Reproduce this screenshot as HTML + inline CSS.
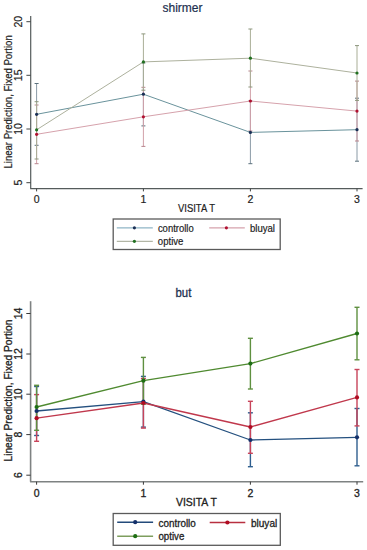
<!DOCTYPE html>
<html><head><meta charset="utf-8"><style>
html,body{margin:0;padding:0;background:#fff;}
svg{display:block;}
text{font-family:"Liberation Sans", sans-serif;stroke-linejoin:round;}
.b1 text{stroke-width:0.2px;}
.b2 text{stroke-width:0.3px;}
</style></head><body>
<svg width="367" height="550" viewBox="0 0 367 550">
<rect width="367" height="550" fill="#fff"/>
<g class="b1"><line x1="36.6" y1="145.3" x2="36.6" y2="83.5" stroke="#8a9aa6" stroke-width="1"/>
<line x1="34.6" y1="145.3" x2="38.6" y2="145.3" stroke="#5a707c" stroke-width="1"/>
<line x1="34.6" y1="83.5" x2="38.6" y2="83.5" stroke="#5a707c" stroke-width="1"/>
<line x1="143.4" y1="125.9" x2="143.4" y2="62.9" stroke="#8a9aa6" stroke-width="1"/>
<line x1="141.4" y1="125.9" x2="145.4" y2="125.9" stroke="#5a707c" stroke-width="1"/>
<line x1="141.4" y1="62.9" x2="145.4" y2="62.9" stroke="#5a707c" stroke-width="1"/>
<line x1="250.4" y1="163.7" x2="250.4" y2="101" stroke="#8a9aa6" stroke-width="1"/>
<line x1="248.4" y1="163.7" x2="252.4" y2="163.7" stroke="#5a707c" stroke-width="1"/>
<line x1="248.4" y1="101" x2="252.4" y2="101" stroke="#5a707c" stroke-width="1"/>
<line x1="357.0" y1="161.2" x2="357.0" y2="98.2" stroke="#8a9aa6" stroke-width="1"/>
<line x1="355.0" y1="161.2" x2="359.0" y2="161.2" stroke="#5a707c" stroke-width="1"/>
<line x1="355.0" y1="98.2" x2="359.0" y2="98.2" stroke="#5a707c" stroke-width="1"/>
<line x1="36.6" y1="163.7" x2="36.6" y2="105" stroke="#d2a0a8" stroke-width="1"/>
<line x1="34.6" y1="163.7" x2="38.6" y2="163.7" stroke="#b8868e" stroke-width="1"/>
<line x1="34.6" y1="105" x2="38.6" y2="105" stroke="#b8868e" stroke-width="1"/>
<line x1="143.4" y1="146.4" x2="143.4" y2="87.3" stroke="#d2a0a8" stroke-width="1"/>
<line x1="141.4" y1="146.4" x2="145.4" y2="146.4" stroke="#b8868e" stroke-width="1"/>
<line x1="141.4" y1="87.3" x2="145.4" y2="87.3" stroke="#b8868e" stroke-width="1"/>
<line x1="250.4" y1="131" x2="250.4" y2="71" stroke="#d2a0a8" stroke-width="1"/>
<line x1="248.4" y1="131" x2="252.4" y2="131" stroke="#b8868e" stroke-width="1"/>
<line x1="248.4" y1="71" x2="252.4" y2="71" stroke="#b8868e" stroke-width="1"/>
<line x1="357.0" y1="141" x2="357.0" y2="81.1" stroke="#d2a0a8" stroke-width="1"/>
<line x1="355.0" y1="141" x2="359.0" y2="141" stroke="#b8868e" stroke-width="1"/>
<line x1="355.0" y1="81.1" x2="359.0" y2="81.1" stroke="#b8868e" stroke-width="1"/>
<line x1="36.6" y1="159" x2="36.6" y2="101.7" stroke="#a9ae96" stroke-width="1"/>
<line x1="34.6" y1="159" x2="38.6" y2="159" stroke="#8c967c" stroke-width="1"/>
<line x1="34.6" y1="101.7" x2="38.6" y2="101.7" stroke="#8c967c" stroke-width="1"/>
<line x1="143.4" y1="90.2" x2="143.4" y2="33.9" stroke="#a9ae96" stroke-width="1"/>
<line x1="141.4" y1="90.2" x2="145.4" y2="90.2" stroke="#8c967c" stroke-width="1"/>
<line x1="141.4" y1="33.9" x2="145.4" y2="33.9" stroke="#8c967c" stroke-width="1"/>
<line x1="250.4" y1="87" x2="250.4" y2="29" stroke="#a9ae96" stroke-width="1"/>
<line x1="248.4" y1="87" x2="252.4" y2="87" stroke="#8c967c" stroke-width="1"/>
<line x1="248.4" y1="29" x2="252.4" y2="29" stroke="#8c967c" stroke-width="1"/>
<line x1="357.0" y1="100.4" x2="357.0" y2="45.6" stroke="#a9ae96" stroke-width="1"/>
<line x1="355.0" y1="100.4" x2="359.0" y2="100.4" stroke="#8c967c" stroke-width="1"/>
<line x1="355.0" y1="45.6" x2="359.0" y2="45.6" stroke="#8c967c" stroke-width="1"/>
<polyline points="36.6,114.3 143.4,94.2 250.4,132.4 357.0,129.7" fill="none" stroke="#6a939c" stroke-width="1" stroke-linejoin="round"/>
<circle cx="36.6" cy="114.3" r="1.6" fill="#1a2f55"/>
<circle cx="143.4" cy="94.2" r="1.6" fill="#1a2f55"/>
<circle cx="250.4" cy="132.4" r="1.6" fill="#1a2f55"/>
<circle cx="357.0" cy="129.7" r="1.6" fill="#1a2f55"/>
<polyline points="36.6,134.3 143.4,116.8 250.4,101 357.0,111.1" fill="none" stroke="#d6a2ac" stroke-width="1" stroke-linejoin="round"/>
<circle cx="36.6" cy="134.3" r="1.6" fill="#b01030"/>
<circle cx="143.4" cy="116.8" r="1.6" fill="#b01030"/>
<circle cx="250.4" cy="101" r="1.6" fill="#b01030"/>
<circle cx="357.0" cy="111.1" r="1.6" fill="#b01030"/>
<polyline points="36.6,129.8 143.4,61.9 250.4,58.2 357.0,73" fill="none" stroke="#adb19d" stroke-width="1" stroke-linejoin="round"/>
<circle cx="36.6" cy="129.8" r="1.6" fill="#207020"/>
<circle cx="143.4" cy="61.9" r="1.6" fill="#207020"/>
<circle cx="250.4" cy="58.2" r="1.6" fill="#207020"/>
<circle cx="357.0" cy="73" r="1.6" fill="#207020"/>
<line x1="30.7" y1="16" x2="30.7" y2="188.6" stroke="#555b5b" stroke-width="1.2"/>
<line x1="30.2" y1="188.6" x2="362.6" y2="188.6" stroke="#555b5b" stroke-width="1.2"/>
<line x1="26.4" y1="21.7" x2="30.7" y2="21.7" stroke="#404444" stroke-width="1"/>
<text x="-21.7" y="21.7" transform="rotate(-90)" text-anchor="middle" font-size="10.5" fill="#222" stroke="#222">20</text>
<line x1="26.4" y1="75.3" x2="30.7" y2="75.3" stroke="#404444" stroke-width="1"/>
<text x="-75.3" y="21.7" transform="rotate(-90)" text-anchor="middle" font-size="10.5" fill="#222" stroke="#222">15</text>
<line x1="26.4" y1="129" x2="30.7" y2="129" stroke="#404444" stroke-width="1"/>
<text x="-129" y="21.7" transform="rotate(-90)" text-anchor="middle" font-size="10.5" fill="#222" stroke="#222">10</text>
<line x1="26.4" y1="182.7" x2="30.7" y2="182.7" stroke="#404444" stroke-width="1"/>
<text x="-182.7" y="21.7" transform="rotate(-90)" text-anchor="middle" font-size="10.5" fill="#222" stroke="#222">5</text>
<line x1="36.6" y1="188.6" x2="36.6" y2="191.4" stroke="#404444" stroke-width="1"/>
<text x="36.6" y="203.3" text-anchor="middle" font-size="10.5" fill="#222" stroke="#222">0</text>
<line x1="143.4" y1="188.6" x2="143.4" y2="191.4" stroke="#404444" stroke-width="1"/>
<text x="143.4" y="203.3" text-anchor="middle" font-size="10.5" fill="#222" stroke="#222">1</text>
<line x1="250.4" y1="188.6" x2="250.4" y2="191.4" stroke="#404444" stroke-width="1"/>
<text x="250.4" y="203.3" text-anchor="middle" font-size="10.5" fill="#222" stroke="#222">2</text>
<line x1="357.0" y1="188.6" x2="357.0" y2="191.4" stroke="#404444" stroke-width="1"/>
<text x="357.0" y="203.3" text-anchor="middle" font-size="10.5" fill="#222" stroke="#222">3</text>
<rect x="113.2" y="219" width="167.0" height="30.5" fill="#fff" stroke="#5a5a5a" stroke-width="1.3"/>
<line x1="116.8" y1="227.8" x2="152.8" y2="227.8" stroke="#8fb5c6" stroke-width="1.3"/>
<circle cx="134.4" cy="227.8" r="1.6" fill="#1a2f55"/>
<line x1="209.2" y1="227.8" x2="244.8" y2="227.8" stroke="#d6a2ac" stroke-width="1.3"/>
<circle cx="226.4" cy="227.8" r="1.6" fill="#b01030"/>
<line x1="116.8" y1="241.3" x2="152.8" y2="241.3" stroke="#b2b6a6" stroke-width="1.3"/>
<circle cx="134.4" cy="241.3" r="1.6" fill="#207020"/>
<text transform="translate(162.50 12.30) scale(1.0000 1)" font-size="12" fill="#1c2f4f" stroke="#1c2f4f">shirmer</text>
<text transform="translate(177.99 212.00) scale(0.9003 1)" font-size="10.5" fill="#222" stroke="#222">VISITA T</text>
<text transform="translate(11.70 168.51) rotate(-90) scale(0.9572 1)" font-size="10" fill="#222" stroke="#222">Linear Prediction, Fixed Portion</text>
<text transform="translate(157.88 231.80) scale(0.9214 1)" font-size="10.3" fill="#222" stroke="#222">controllo</text>
<text transform="translate(249.96 231.80) scale(0.9319 1)" font-size="10.3" fill="#222" stroke="#222">bluyal</text>
<text transform="translate(157.87 244.70) scale(0.9305 1)" font-size="10.3" fill="#222" stroke="#222">optive</text></g>
<g class="b2"><line x1="36.6" y1="435.5" x2="36.6" y2="386.5" stroke="#2f5f8f" stroke-width="1.4"/>
<line x1="34.1" y1="435.5" x2="39.1" y2="435.5" stroke="#2f5f8f" stroke-width="1.4"/>
<line x1="34.1" y1="386.5" x2="39.1" y2="386.5" stroke="#2f5f8f" stroke-width="1.4"/>
<line x1="143.4" y1="427.1" x2="143.4" y2="376.4" stroke="#2f5f8f" stroke-width="1.4"/>
<line x1="140.9" y1="427.1" x2="145.9" y2="427.1" stroke="#2f5f8f" stroke-width="1.4"/>
<line x1="140.9" y1="376.4" x2="145.9" y2="376.4" stroke="#2f5f8f" stroke-width="1.4"/>
<line x1="250.4" y1="466.7" x2="250.4" y2="412.8" stroke="#2f5f8f" stroke-width="1.4"/>
<line x1="247.9" y1="466.7" x2="252.9" y2="466.7" stroke="#2f5f8f" stroke-width="1.4"/>
<line x1="247.9" y1="412.8" x2="252.9" y2="412.8" stroke="#2f5f8f" stroke-width="1.4"/>
<line x1="357.0" y1="465.8" x2="357.0" y2="408.5" stroke="#2f5f8f" stroke-width="1.4"/>
<line x1="354.5" y1="465.8" x2="359.5" y2="465.8" stroke="#2f5f8f" stroke-width="1.4"/>
<line x1="354.5" y1="408.5" x2="359.5" y2="408.5" stroke="#2f5f8f" stroke-width="1.4"/>
<line x1="36.6" y1="441.3" x2="36.6" y2="394.6" stroke="#c8445a" stroke-width="1.4"/>
<line x1="34.1" y1="441.3" x2="39.1" y2="441.3" stroke="#c8445a" stroke-width="1.4"/>
<line x1="34.1" y1="394.6" x2="39.1" y2="394.6" stroke="#c8445a" stroke-width="1.4"/>
<line x1="143.4" y1="428.1" x2="143.4" y2="378.5" stroke="#c8445a" stroke-width="1.4"/>
<line x1="140.9" y1="428.1" x2="145.9" y2="428.1" stroke="#c8445a" stroke-width="1.4"/>
<line x1="140.9" y1="378.5" x2="145.9" y2="378.5" stroke="#c8445a" stroke-width="1.4"/>
<line x1="250.4" y1="453.3" x2="250.4" y2="401.3" stroke="#c8445a" stroke-width="1.4"/>
<line x1="247.9" y1="453.3" x2="252.9" y2="453.3" stroke="#c8445a" stroke-width="1.4"/>
<line x1="247.9" y1="401.3" x2="252.9" y2="401.3" stroke="#c8445a" stroke-width="1.4"/>
<line x1="357.0" y1="425.9" x2="357.0" y2="369.5" stroke="#c8445a" stroke-width="1.4"/>
<line x1="354.5" y1="425.9" x2="359.5" y2="425.9" stroke="#c8445a" stroke-width="1.4"/>
<line x1="354.5" y1="369.5" x2="359.5" y2="369.5" stroke="#c8445a" stroke-width="1.4"/>
<line x1="36.6" y1="430.3" x2="36.6" y2="385.3" stroke="#5f9040" stroke-width="1.4"/>
<line x1="34.1" y1="430.3" x2="39.1" y2="430.3" stroke="#5f9040" stroke-width="1.4"/>
<line x1="34.1" y1="385.3" x2="39.1" y2="385.3" stroke="#5f9040" stroke-width="1.4"/>
<line x1="143.4" y1="404.2" x2="143.4" y2="357.4" stroke="#5f9040" stroke-width="1.4"/>
<line x1="140.9" y1="404.2" x2="145.9" y2="404.2" stroke="#5f9040" stroke-width="1.4"/>
<line x1="140.9" y1="357.4" x2="145.9" y2="357.4" stroke="#5f9040" stroke-width="1.4"/>
<line x1="250.4" y1="389" x2="250.4" y2="338.3" stroke="#5f9040" stroke-width="1.4"/>
<line x1="247.9" y1="389" x2="252.9" y2="389" stroke="#5f9040" stroke-width="1.4"/>
<line x1="247.9" y1="338.3" x2="252.9" y2="338.3" stroke="#5f9040" stroke-width="1.4"/>
<line x1="357.0" y1="359.8" x2="357.0" y2="307.3" stroke="#5f9040" stroke-width="1.4"/>
<line x1="354.5" y1="359.8" x2="359.5" y2="359.8" stroke="#5f9040" stroke-width="1.4"/>
<line x1="354.5" y1="307.3" x2="359.5" y2="307.3" stroke="#5f9040" stroke-width="1.4"/>
<polyline points="36.6,411 143.4,401.7 250.4,440 357.0,437.3" fill="none" stroke="#24507f" stroke-width="1.3" stroke-linejoin="round"/>
<circle cx="36.6" cy="411" r="2.1" fill="#14306a"/>
<circle cx="143.4" cy="401.7" r="2.1" fill="#14306a"/>
<circle cx="250.4" cy="440" r="2.1" fill="#14306a"/>
<circle cx="357.0" cy="437.3" r="2.1" fill="#14306a"/>
<polyline points="36.6,418.2 143.4,403 250.4,427 357.0,397.4" fill="none" stroke="#c0384c" stroke-width="1.3" stroke-linejoin="round"/>
<circle cx="36.6" cy="418.2" r="2.1" fill="#b00c22"/>
<circle cx="143.4" cy="403" r="2.1" fill="#b00c22"/>
<circle cx="250.4" cy="427" r="2.1" fill="#b00c22"/>
<circle cx="357.0" cy="397.4" r="2.1" fill="#b00c22"/>
<polyline points="36.6,407 143.4,380.7 250.4,363.6 357.0,333.5" fill="none" stroke="#4f8a30" stroke-width="1.3" stroke-linejoin="round"/>
<circle cx="36.6" cy="407" r="2.1" fill="#1e6e14"/>
<circle cx="143.4" cy="380.7" r="2.1" fill="#1e6e14"/>
<circle cx="250.4" cy="363.6" r="2.1" fill="#1e6e14"/>
<circle cx="357.0" cy="333.5" r="2.1" fill="#1e6e14"/>
<line x1="30.6" y1="301.2" x2="30.6" y2="481.7" stroke="#7e8282" stroke-width="1.6"/>
<line x1="30.1" y1="481.7" x2="363.2" y2="481.7" stroke="#7e8282" stroke-width="1.6"/>
<line x1="26.3" y1="313.5" x2="30.6" y2="313.5" stroke="#383838" stroke-width="1"/>
<text x="-313.5" y="21.7" transform="rotate(-90)" text-anchor="middle" font-size="10.5" fill="#222" stroke="#222">14</text>
<line x1="26.3" y1="354" x2="30.6" y2="354" stroke="#383838" stroke-width="1"/>
<text x="-354" y="21.7" transform="rotate(-90)" text-anchor="middle" font-size="10.5" fill="#222" stroke="#222">12</text>
<line x1="26.3" y1="394.2" x2="30.6" y2="394.2" stroke="#383838" stroke-width="1"/>
<text x="-394.2" y="21.7" transform="rotate(-90)" text-anchor="middle" font-size="10.5" fill="#222" stroke="#222">10</text>
<line x1="26.3" y1="434.6" x2="30.6" y2="434.6" stroke="#383838" stroke-width="1"/>
<text x="-434.6" y="21.7" transform="rotate(-90)" text-anchor="middle" font-size="10.5" fill="#222" stroke="#222">8</text>
<line x1="26.3" y1="475.2" x2="30.6" y2="475.2" stroke="#383838" stroke-width="1"/>
<text x="-475.2" y="21.7" transform="rotate(-90)" text-anchor="middle" font-size="10.5" fill="#222" stroke="#222">6</text>
<line x1="36.6" y1="481.7" x2="36.6" y2="484.7" stroke="#383838" stroke-width="1"/>
<text x="36.6" y="497" text-anchor="middle" font-size="10.5" fill="#222" stroke="#222">0</text>
<line x1="143.4" y1="481.7" x2="143.4" y2="484.7" stroke="#383838" stroke-width="1"/>
<text x="143.4" y="497" text-anchor="middle" font-size="10.5" fill="#222" stroke="#222">1</text>
<line x1="250.4" y1="481.7" x2="250.4" y2="484.7" stroke="#383838" stroke-width="1"/>
<text x="250.4" y="497" text-anchor="middle" font-size="10.5" fill="#222" stroke="#222">2</text>
<line x1="357.0" y1="481.7" x2="357.0" y2="484.7" stroke="#383838" stroke-width="1"/>
<text x="357.0" y="497" text-anchor="middle" font-size="10.5" fill="#222" stroke="#222">3</text>
<rect x="113.2" y="513.5" width="167.10000000000002" height="31.799999999999955" fill="#fff" stroke="#5a5a5a" stroke-width="1.3"/>
<line x1="117.2" y1="522.2" x2="153.1" y2="522.2" stroke="#234a7a" stroke-width="1.6"/>
<circle cx="135.2" cy="522.2" r="2.1" fill="#14306a"/>
<line x1="209.7" y1="522.5" x2="245.3" y2="522.5" stroke="#b83040" stroke-width="1.6"/>
<circle cx="227.4" cy="522.5" r="2.1" fill="#b00c22"/>
<line x1="117.2" y1="536.2" x2="153.1" y2="536.2" stroke="#7e9e5e" stroke-width="1.6"/>
<circle cx="135.2" cy="536.2" r="2.1" fill="#1e6e14"/>
<text transform="translate(175.49 297.00) scale(0.9514 1)" font-size="12" fill="#1c2f4f" stroke="#1c2f4f">but</text>
<text transform="translate(176.00 506.00) scale(0.9953 1)" font-size="10.5" fill="#222" stroke="#222">VISITA T</text>
<text transform="translate(11.70 461.52) rotate(-90) scale(1.0174 1)" font-size="10" fill="#222" stroke="#222">Linear Prediction, Fixed Portion</text>
<text transform="translate(158.45 526.50) scale(0.9888 1)" font-size="10" fill="#222" stroke="#222">controllo</text>
<text transform="translate(250.96 526.50) scale(1.0067 1)" font-size="10" fill="#222" stroke="#222">bluyal</text>
<text transform="translate(158.48 539.90) scale(0.9668 1)" font-size="10" fill="#222" stroke="#222">optive</text></g>
</svg>
</body></html>
